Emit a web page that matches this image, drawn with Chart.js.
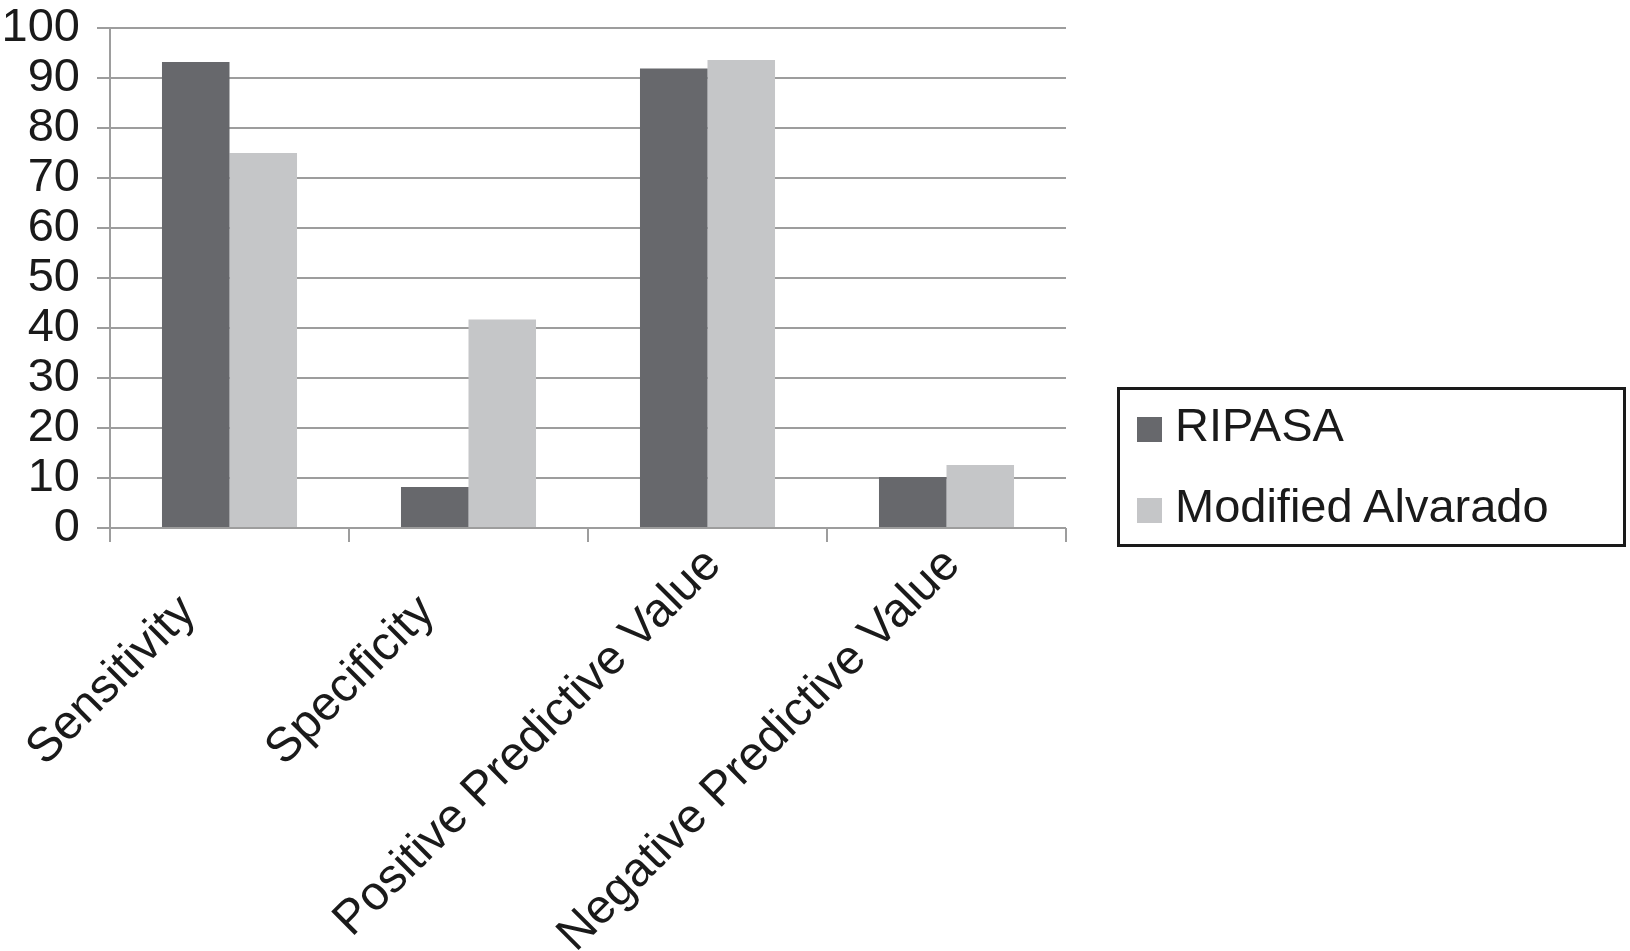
<!DOCTYPE html>
<html>
<head>
<meta charset="utf-8">
<script src="https://cdn.jsdelivr.net/npm/chart.js@4.4.1/dist/chart.umd.min.js"></script>
<style>
  body { margin: 0; background: #fff; }
  #wrap { position: relative; width: 1630px; height: 951px; }
  #legend {
    position: absolute; left: 1117px; top: 387px; width: 503px; height: 154px;
    border: 3px solid #1a1a1a; font-family: "Liberation Sans", Arial, sans-serif;
    font-size: 47px; color: #1a1a1a;
  }
  .item { position: absolute; left: 17px; height: 50px; line-height: 50px; white-space: nowrap; }
  .item span { display: inline-block; width: 25px; height: 25px; margin-right: 13px; vertical-align: -1px; }
</style>
</head>
<body>
<div id="wrap">
  <canvas id="chart" width="1630" height="951"></canvas>
  <div id="legend"></div>
</div>
<script>
// categorias y valores
const categories = ['Sensitivity', 'Specificity', 'Positive Predictive Value', 'Negative Predictive Value'];
const seriesNames = ['RIPASA', 'Modified Alvarado'];
const ripasa = [93.2, 8.2, 91.9, 10.2];
const modifiedAlvarado = [75.0, 41.7, 93.6, 12.6];
const yTicks = [0, 10, 20, 30, 40, 50, 60, 70, 80, 90, 100];

const colors = ['#67686c', '#c5c6c8'];
const gridColor = '#9d9d9d';
const textColor = '#1a1a1a';
const fontFamily = '"Liberation Sans", Arial, sans-serif';
// las etiquetas cortas quedan mas abajo en el original
const labelTrail = [5, 5, 0, 0];

const ctx = document.getElementById('chart').getContext('2d');

const chart = new Chart(ctx, {
  type: 'bar',
  data: {
    labels: categories,
    datasets: [
      { label: seriesNames[0], data: ripasa, backgroundColor: colors[0] },
      { label: seriesNames[1], data: modifiedAlvarado, backgroundColor: colors[1] }
    ]
  },
  options: {
    responsive: false,
    animation: false,
    devicePixelRatio: 1,
    layout: { padding: { left: 4, right: 564, top: 28, bottom: 0 } },
    datasets: { bar: { categoryPercentage: 0.565, barPercentage: 1.0 } },
    plugins: { legend: { display: false }, tooltip: { enabled: false } },
    scales: {
      x: {
        grid: { drawOnChartArea: false, offset: true, color: gridColor, lineWidth: 2, tickLength: 14 },
        border: { display: false },
        ticks: {
          color: textColor, font: { family: fontFamily, size: 48 },
          minRotation: 45, maxRotation: 45, padding: -5, labelOffset: 6, autoSkip: false,
          callback: (v, i) => categories[i] + ' '.repeat(labelTrail[i])
        },
        afterFit: (scale) => { scale.height = 951 - 528; }
      },
      y: {
        min: 0, max: 100,
        afterBuildTicks: (scale) => { scale.ticks = yTicks.map(v => ({ value: v })); },
        grid: { color: gridColor, lineWidth: 2, tickLength: 13 },
        border: { color: gridColor, width: 2 },
        ticks: { color: textColor, font: { family: fontFamily, size: 47 }, padding: 17, autoSkip: false, stepSize: 10 },
        afterFit: (scale) => { scale.width = 110 - 4; scale.paddingTop = 0; scale.paddingBottom = 0; }
      }
    }
  }
});

// leyenda con borde, construida desde los datos
const legend = document.getElementById('legend');
seriesNames.forEach((name, i) => {
  const div = document.createElement('div');
  div.className = 'item';
  div.style.top = (i === 0 ? 10 : 91) + 'px';
  div.innerHTML = '<span style="background:' + colors[i] + '"></span>' + name;
  legend.appendChild(div);
});
</script>
</body>
</html>
